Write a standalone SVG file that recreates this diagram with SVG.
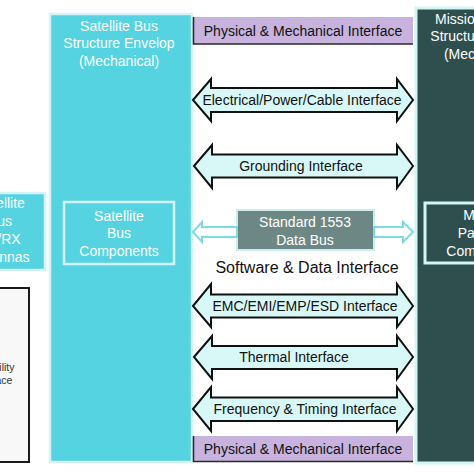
<svg xmlns="http://www.w3.org/2000/svg" width="474" height="474" viewBox="0 0 474 474">
<defs>
<style>
.cyan{fill:#56d3e0;stroke:#d3f3f6;stroke-width:2.5}
.dark{fill:#2f4e4e;stroke:#d3f5f5;stroke-width:3}
.purple{fill:#c7b3de}
.pedge{fill:none;stroke:#2a2a2a;stroke-width:1.6}
.barrow{fill:#d8f8f7;stroke:#111;stroke-width:2;stroke-linejoin:miter}
.sarrow{fill:#ffffff;stroke:#7fd9e1;stroke-width:2}
.wt{font-family:"Liberation Sans",Arial,sans-serif;font-size:14px;fill:#ffffff;text-anchor:middle}
.bt{font-family:"Liberation Sans",Arial,sans-serif;font-size:14px;fill:#111;text-anchor:middle}
.st{font-family:"Liberation Sans",Arial,sans-serif;font-size:10.5px;fill:#333;text-anchor:middle}
</style>
</defs>
<rect width="474" height="474" fill="#ffffff"/>

<g id="left-antennas">
<rect class="cyan" x="-50" y="193" width="95" height="77"/>
<text class="wt" x="0" y="208">Satellite</text>
<text class="wt" x="0" y="226">Bus</text>
<text class="wt" x="0" y="244">TX/RX</text>
<text class="wt" x="0" y="262">Antennas</text>
</g>

<g id="left-reliability">
<rect x="-50" y="288" width="79" height="174" fill="#f8f8f8" stroke="#1a1a1a" stroke-width="2"/>
<text class="st" x="-8" y="371">Reliability</text>
<text class="st" x="-8" y="384">Interface</text>
</g>

<g id="satellite-bus-envelope">
<rect class="cyan" x="50" y="14" width="142" height="448"/>
<text class="wt" x="119" y="31">Satellite  Bus</text>
<text class="wt" x="119" y="48">Structure Envelop</text>
<text class="wt" x="119" y="66">(Mechanical)</text>
</g>

<g id="satellite-bus-components">
<rect class="cyan" x="64" y="202" width="110" height="62"/>
<text class="wt" x="119" y="221">Satellite</text>
<text class="wt" x="119" y="238">Bus</text>
<text class="wt" x="119" y="256">Components</text>
</g>

<g id="mission-payload-envelope">
<rect class="dark" x="416" y="8" width="80" height="455"/>
<text class="wt" x="486" y="24">Mission Payload</text>
<text class="wt" x="486" y="41">Structure Envelop</text>
<text class="wt" x="484" y="59">(Mechanical)</text>
</g>

<g id="mission-payload-components">
<rect class="dark" x="425" y="203" width="80" height="60" stroke-width="2.5"/>
<text class="wt" x="487" y="220">Mission</text>
<text class="wt" x="483" y="238">Payload</text>
<text class="wt" x="486" y="256">Components</text>
</g>

<g id="physical-top">
<rect class="purple" x="193" y="17" width="220" height="27"/>
<polyline class="pedge" points="193.5,17 193.5,44 413,44"/>
<text class="bt" x="303" y="35.5">Physical  &amp; Mechanical  Interface</text>
</g>

<g id="physical-bottom">
<rect class="purple" x="193" y="436" width="220" height="26"/>
<polyline class="pedge" points="193.5,436 193.5,461.5 413,461.5"/>
<text class="bt" x="303" y="454">Physical  &amp; Mechanical  Interface</text>
</g>

<g id="data-bus">
<rect x="237" y="210" width="137" height="40" fill="#6d8884" stroke="#c9eef0" stroke-width="2"/>
<text class="wt" x="305" y="227">Standard 1553</text>
<text class="wt" x="305" y="245">Data Bus</text>
</g>

<g id="connectors">
<path class="barrow" d="M193,100 L211,79 L211,88 L397,88 L397,79 L413,100 L397,121 L397,112 L211,112 L211,121 Z"/>
<text class="bt" x="302" y="105">Electrical/Power/Cable  Interface</text>

<path class="barrow" d="M194,166 L212,145 L212,154.5 L397,154.5 L397,145 L413,166 L397,188 L397,177.5 L212,177.5 L212,188 Z"/>
<text class="bt" x="301" y="171">Grounding Interface</text>

<path class="sarrow" d="M193,232 L202,222 L202,227 L237,227 L237,237 L202,237 L202,242 Z"/>
<path class="sarrow" d="M374,227 L403,227 L403,222 L413,232 L403,242 L403,237 L374,237 Z"/>
<text class="bt" x="307" y="273" style="font-size:16px">Software &amp; Data Interface</text>

<path class="barrow" d="M193,306 L211,284 L211,294.5 L397,294.5 L397,284 L413,306 L397,327 L397,317.5 L211,317.5 L211,327 Z"/>
<text class="bt" x="305" y="311">EMC/EMI/EMP/ESD  Interface</text>

<path class="barrow" d="M194,357 L212,336 L212,346 L397,346 L397,336 L413,357 L397,379 L397,369 L212,369 L212,379 Z"/>
<text class="bt" x="294" y="362">Thermal Interface</text>

<path class="barrow" d="M193,409 L211,387 L211,397.5 L397,397.5 L397,387 L413,409 L397,431 L397,421 L211,421 L211,431 Z"/>
<text class="bt" x="305" y="414">Frequency &amp; Timing Interface</text>
</g>
</svg>
